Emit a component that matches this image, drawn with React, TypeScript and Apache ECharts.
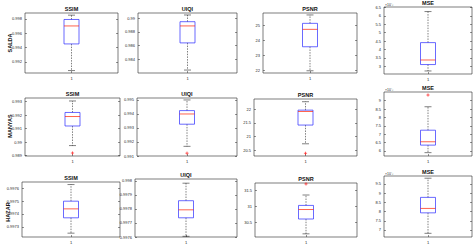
import React, { useEffect, useRef } from "react";
import * as echarts from "echarts";

// Row (lake) and column (metric) names
const lakes = ["SALDA", "MANYAS", "HAZAR"];
const metrics = ["SSIM", "UIQI", "PSNR", "MSE"];
const xCategories = ["1"];

// Box statistics: [lower whisker, Q1, median, Q3, upper whisker]
const saldaSSIM = [0.9908, 0.9945, 0.997, 0.9979, 0.9985];
const saldaUIQI = [0.98243, 0.9864, 0.98888, 0.9895, 0.99048];
const saldaPSNR = [21.95, 23.55, 24.71, 25.11, 25.67];
const saldaMSE = [2.73, 3.11, 3.38, 4.41, 6.25]; // x10^-3

const manyasSSIM = [0.98975, 0.9912, 0.9919, 0.9922, 0.99305];
const manyasUIQI = [0.99169, 0.99327, 0.994, 0.99424, 0.995];
const manyasPSNR = [20.73, 21.42, 21.92, 21.97, 22.28];
const manyasMSE = [5.9, 6.35, 6.55, 7.24, 8.64]; // x10^-3

const hazarSSIM = [0.99725, 0.99737, 0.99744, 0.9975, 0.99763];
const hazarUIQI = [0.997605, 0.997737, 0.997794, 0.997859, 0.997984];
const hazarPSNR = [30.13, 30.6, 30.9, 31.03, 31.36];
const hazarMSE = [6.82, 7.93, 8.17, 8.77, 9.81]; // x10^-3

// Outliers
const saldaOut: number[][] = [[], [], [], []];
const manyasOut: number[][] = [[0.9892], [0.9912], [20.38], [9.34]];
const hazarOut: number[][] = [[], [], [31.71], []];

// Axis limits [min, max]
const saldaRanges = [[0.99046, 0.9988], [0.982, 0.99077], [21.8, 25.8], [2.55, 6.52]];
const manyasRanges = [[0.98898, 0.99327], [0.991, 0.99514], [20.28, 22.38], [5.7, 9.52]];
const hazarRanges = [[0.99722, 0.99765], [0.9976, 0.998014], [30.03, 31.74], [6.62, 9.93]];

// Tick labels
const saldaTicks = [
  [0.992, 0.994, 0.996, 0.998],
  [0.984, 0.986, 0.988, 0.99],
  [22, 23, 24, 25],
  [3, 3.5, 4, 4.5, 5, 5.5, 6, 6.5],
];
const manyasTicks = [
  [0.989, 0.99, 0.991, 0.992, 0.993],
  [0.991, 0.992, 0.993, 0.994, 0.995],
  [20.5, 21, 21.5, 22],
  [6, 6.5, 7, 7.5, 8, 8.5, 9],
];
const hazarTicks = [
  [0.9973, 0.9974, 0.9975, 0.9976],
  [0.9976, 0.9977, 0.9978, 0.9979, 0.998],
  [30.5, 31, 31.5],
  [7, 7.5, 8, 8.5, 9, 9.5],
];

const allStats = [
  [saldaSSIM, saldaUIQI, saldaPSNR, saldaMSE],
  [manyasSSIM, manyasUIQI, manyasPSNR, manyasMSE],
  [hazarSSIM, hazarUIQI, hazarPSNR, hazarMSE],
];
const allOut = [saldaOut, manyasOut, hazarOut];
const allRanges = [saldaRanges, manyasRanges, hazarRanges];
const allTicks = [saldaTicks, manyasTicks, hazarTicks];

// Layout: [left, top, right, bottom] in px
const boxes = [
  [[25, 13, 118, 73], [138, 13, 237, 73], [263, 13, 357, 73], [384, 7, 472, 74]],
  [[25, 98, 120, 156], [137, 98, 237, 156], [254, 99, 357, 156], [384, 92, 472, 156]],
  [[22, 182, 120, 237], [135, 179, 237, 237], [255, 183, 357, 237], [384, 176, 472, 237]],
];
const rowLabelPos = [[10, 43], [10, 126], [8, 212]];

const FONT = "'Liberation Sans', Arial, Helvetica, sans-serif";
const AX = "#262626";

const boxRender = (params: any, api: any) => {
  const cx = api.coord([api.value(0), api.value(3)])[0];
  const y = (d: number) => api.coord([api.value(0), api.value(d)])[1];
  const lw = y(1), q1 = y(2), md = y(3), q3 = y(4), uw = y(5);
  const bw = 15, cw = 7;
  const dash = { stroke: "#000", lineWidth: 0.5, lineDash: [1.5, 1.2], fill: null };
  const solid = { stroke: "#000", lineWidth: 0.5, fill: null };
  return {
    type: "group",
    children: [
      { type: "line", shape: { x1: cx, y1: q3, x2: cx, y2: uw }, style: dash },
      { type: "line", shape: { x1: cx, y1: q1, x2: cx, y2: lw }, style: dash },
      { type: "line", shape: { x1: cx - cw / 2, y1: uw, x2: cx + cw / 2, y2: uw }, style: solid },
      { type: "line", shape: { x1: cx - cw / 2, y1: lw, x2: cx + cw / 2, y2: lw }, style: solid },
      {
        type: "rect",
        shape: { x: cx - bw / 2, y: q3, width: bw, height: q1 - q3 },
        style: { stroke: "#2a2aff", lineWidth: 0.7, fill: null },
      },
      {
        type: "line",
        shape: { x1: cx - bw / 2, y1: md, x2: cx + bw / 2, y2: md },
        style: { stroke: "#ff2000", lineWidth: 0.7 },
      },
    ],
  };
};

const plusRender = (params: any, api: any) => {
  const [cx, cy] = api.coord([api.value(0), api.value(1)]);
  const s = 1.6;
  const st = { stroke: "#ff0000", lineWidth: 0.6 };
  return {
    type: "group",
    children: [
      { type: "line", shape: { x1: cx - s, y1: cy, x2: cx + s, y2: cy }, style: st },
      { type: "line", shape: { x1: cx, y1: cy - s, x2: cx, y2: cy + s }, style: st },
    ],
  };
};

function buildOption() {
  const grid: any[] = [];
  const xAxis: any[] = [];
  const yAxis: any[] = [];
  const series: any[] = [];
  const graphic: any[] = [];
  let i = 0;
  for (let r = 0; r < 3; r++) {
    for (let k = 0; k < 4; k++) {
      const [l, t, rt, b] = boxes[r][k];
      const [mn, mx] = allRanges[r][k];
      const ticks = allTicks[r][k];
      grid.push({
        left: l,
        top: t,
        width: rt - l,
        height: b - t,
        show: true,
        borderColor: AX,
        borderWidth: 0.6,
        backgroundColor: "#fff",
      });
      xAxis.push({
        type: "category",
        gridIndex: i,
        data: xCategories,
        boundaryGap: true,
        axisLine: { show: false },
        axisTick: { show: true, inside: true, alignWithLabel: true, length: 2, lineStyle: { color: AX, width: 0.5 } },
        axisLabel: { fontSize: 4, color: AX, margin: 3, fontFamily: FONT },
        splitLine: { show: false },
      });
      const tickCommon = { show: true, inside: true, length: 2, customValues: ticks, lineStyle: { color: AX, width: 0.5 } };
      yAxis.push({
        type: "value",
        gridIndex: i,
        min: mn,
        max: mx,
        position: "left",
        axisLine: { show: false },
        axisTick: tickCommon,
        axisLabel: {
          customValues: ticks,
          fontSize: 4,
          color: AX,
          margin: 3,
          fontFamily: FONT,
          formatter: (v: number) => String(parseFloat(v.toPrecision(6))),
        },
        splitLine: { show: false },
      });
      yAxis.push({
        type: "value",
        gridIndex: i,
        min: mn,
        max: mx,
        position: "right",
        axisLine: { show: false },
        axisTick: tickCommon,
        axisLabel: { show: false },
        splitLine: { show: false },
      });
      const st = allStats[r][k];
      series.push({
        type: "custom",
        xAxisIndex: i,
        yAxisIndex: 2 * i,
        data: [[0, ...st]],
        encode: { x: 0, y: [1, 2, 3, 4, 5] },
        renderItem: boxRender,
        clip: false,
      });
      const out = allOut[r][k];
      if (out.length) {
        series.push({
          type: "custom",
          xAxisIndex: i,
          yAxisIndex: 2 * i,
          data: out.map((v) => [0, v]),
          encode: { x: 0, y: 1 },
          renderItem: plusRender,
          clip: false,
        });
      }
      // title
      graphic.push({
        type: "text",
        x: (l + rt) / 2,
        y: t - 1.5,
        style: {
          text: metrics[k],
          fontSize: 5.5,
          fontWeight: "bold",
          fontFamily: FONT,
          fill: "#111",
          textAlign: "center",
          textVerticalAlign: "bottom",
        },
      });
      if (k === 3) {
        graphic.push({
          type: "text",
          x: l + 1,
          y: t - 0.5,
          style: {
            text: "×10⁻³",
            fontSize: 3.5,
            fontFamily: FONT,
            fill: AX,
            textAlign: "left",
            textVerticalAlign: "bottom",
          },
        });
      }
      i++;
    }
    graphic.push({
      type: "text",
      x: rowLabelPos[r][0],
      y: rowLabelPos[r][1],
      rotation: Math.PI / 2,
      style: {
        text: lakes[r],
        fontSize: 5.5,
        fontWeight: "bold",
        fontFamily: FONT,
        fill: "#111",
        textAlign: "center",
        textVerticalAlign: "middle",
      },
    });
  }
  return {
    animation: false,
    backgroundColor: "#fff",
    grid,
    xAxis,
    yAxis,
    series,
    graphic,
  };
}

export default function App() {
  const ref = useRef<HTMLDivElement>(null);
  useEffect(() => {
    if (!ref.current) return;
    const chart = echarts.init(ref.current, undefined, { renderer: "svg" });
    chart.setOption(buildOption() as any);
    return () => chart.dispose();
  }, []);
  return (
    <div
      ref={ref}
      style={{ position: "fixed", left: 0, top: 0, width: 474, height: 244, background: "#fff" }}
    />
  );
}
